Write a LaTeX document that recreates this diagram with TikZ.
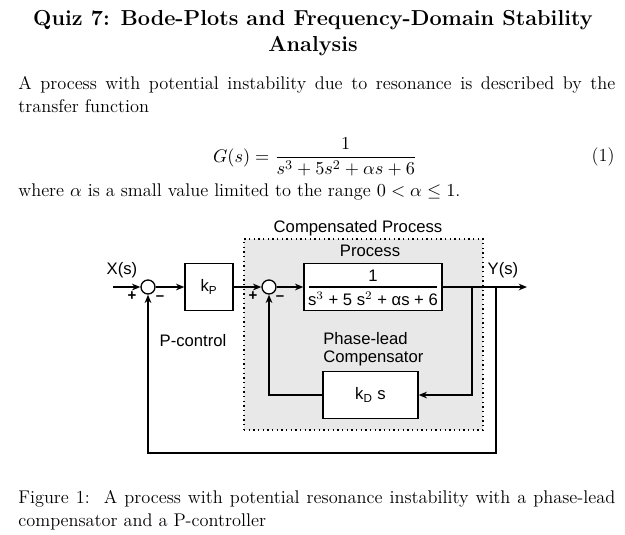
\documentclass[tikz,border=0pt]{standalone}
\usepackage{fontspec}
\usepackage{amsmath}
\newfontfamily\dsans{Liberation Sans}
\usetikzlibrary{arrows.meta}
\begin{document}
\begin{tikzpicture}[x=0.6pt,y=-0.6pt,font=\fontsize{11}{13.6}\selectfont,
  blk/.style={draw,thick,fill=white,font=\dsans\fontsize{10}{11}\selectfont},
  sum/.style={draw,thick,circle,fill=white,minimum size=8.4pt,inner sep=0pt},
  lbl/.style={font=\dsans\fontsize{10}{11}\selectfont},
  sgn/.style={font=\dsans\fontsize{9}{9}\selectfont\bfseries},
  ar/.style={-{Stealth[length=5pt,width=4pt]},thick}]
\useasboundingbox (0,0) rectangle (625,534);
\node[font=\bfseries\fontsize{13}{16}\selectfont,align=center] (title) at (313,33) {Quiz 7: Bode-Plots and Frequency-Domain Stability\\Analysis};
\node[anchor=north west,text width=597*0.6pt,align=justify,inner sep=0pt] (para) at (18,76) {A process with potential instability due to resonance is described by the transfer function};
\node (eq) at (315,157) {$\displaystyle G(s)=\frac{1}{s^3+5s^2+\alpha s+6}$};
\node (eqn) at (603,157) {(1)};
\node[anchor=west,inner sep=0pt] (where) at (18,192) {where $\alpha$ is a small value limited to the range $0<\alpha\leq1$.};
% diagram
\node[draw,dotted,thick,fill=black!9,minimum width=239*0.6pt,minimum height=191*0.6pt] (cp) at (363.5,334.5) {};
\node[lbl] (cpl) at (358,228) {Compensated Process};
\node[lbl] (pl) at (370,251) {Process};
\node[blk,minimum width=138*0.6pt,minimum height=47*0.6pt,inner sep=1pt] (proc) at (373,287) {};
\node[lbl] (pnum) at (373,276) {1};
\node[lbl] (pden) at (373,299) {s$^3$ + 5 s$^2$ + αs + 6};
\draw[thick] (proc.center) ++(-64,0) coordinate (fl) -- ++(128,0) coordinate (fr);
\node[blk,minimum width=48*0.6pt,minimum height=47*0.6pt] (kp) at (209,287) {k\textsubscript{P}};
\node[blk,minimum width=95*0.6pt,minimum height=47*0.6pt] (kd) at (370.5,395) {k\textsubscript{D} s};
\node[sum] (s1) at (148,287) {};
\node[sum] (s2) at (269,287) {};
\coordinate (in) at (113,287);
\coordinate (out) at (527,287);
\coordinate (b1) at (472,287);
\coordinate (b2) at (496,287);
\node[lbl] (xs) at (122,270) {X(s)};
\node[lbl] (ys) at (503,270) {Y(s)};
\node[lbl] (pc) at (193,341) {P-control};
\node[lbl,align=left,anchor=west,inner sep=0pt] (plc) at (323,349) {Phase-lead\\Compensator};
\node[sgn] (p1) at (132,296) {+};
\node[sgn] (m1) at (160,298) {–};
\node[sgn] (p2) at (253,296) {+};
\node[sgn] (m2) at (280,298) {–};
\draw[ar] (in) -- (s1);
\draw[ar] (s1) -- (kp);
\draw[ar] (kp) -- (s2);
\draw[ar] (s2) -- (proc);
\draw[ar] (proc) -- (out);
\draw[ar] (b1) |- (kd);
\draw[ar] (kd) -| (s2);
\draw[ar] (b2) |- (148,453) -- (s1);
\node[anchor=north west,text width=597*0.6pt,align=justify,inner sep=0pt] (cap) at (18,490) {Figure 1:\ \ A process with potential resonance instability with a phase-lead com\-pensator and a P-controller};
\end{tikzpicture}
\end{document}
